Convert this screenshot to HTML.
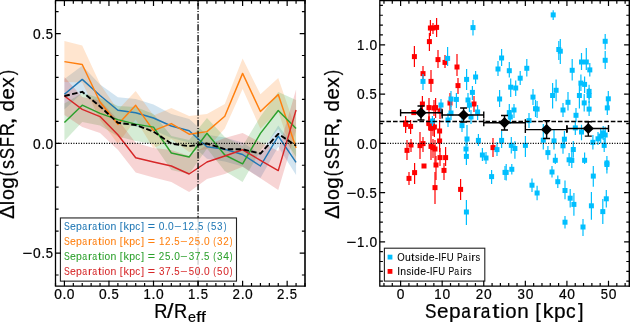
<!DOCTYPE html>
<html><head><meta charset="utf-8"><title>plot</title>
<style>html,body{margin:0;padding:0;background:#fff;}body{width:630px;height:322px;overflow:hidden;}svg{display:block;will-change:transform;}</style>
</head><body>
<svg width="630" height="322" viewBox="0 0 630 322">
<rect x="0" y="0" width="630" height="322" fill="#fff"/>
<g font-family='"Liberation Sans", sans-serif'>
<clipPath id="cl"><rect x="55.50" y="0.70" width="249.50" height="285.40"/></clipPath>
<g clip-path="url(#cl)">
<polygon points="64.41,79.00 82.23,65.80 100.05,84.50 117.87,97.20 135.69,99.00 153.51,104.50 171.33,114.00 189.15,119.00 206.97,134.80 224.79,137.40 242.61,142.50 260.43,154.00 278.25,125.60 296.07,149.60 296.07,175.00 278.25,146.80 260.43,178.00 242.61,166.50 224.79,161.40 206.97,158.80 189.15,142.60 171.33,138.00 153.51,130.00 135.69,126.40 117.87,123.40 100.05,106.50 82.23,93.00 64.41,109.60" fill="#1f77b4" fill-opacity="0.2" stroke="none"/>
<polygon points="64.41,41.10 82.23,45.50 100.05,84.00 117.87,110.00 135.69,91.00 153.51,115.50 171.33,108.00 189.15,116.00 206.97,114.00 224.79,104.00 242.61,58.60 260.43,94.30 278.25,78.00 296.07,130.00 296.07,166.00 278.25,111.20 260.43,128.70 242.61,89.00 224.79,128.60 206.97,149.00 189.15,152.00 171.33,139.00 153.51,148.60 135.69,119.60 117.87,143.80 100.05,120.00 82.23,82.50 64.41,82.00" fill="#ff7f0e" fill-opacity="0.2" stroke="none"/>
<polygon points="64.41,103.60 82.23,93.00 100.05,98.00 117.87,106.00 135.69,107.00 153.51,114.00 171.33,136.00 189.15,140.00 206.97,118.00 224.79,137.00 242.61,146.00 260.43,116.40 278.25,92.00 296.07,100.00 296.07,157.00 278.25,129.00 260.43,150.40 242.61,182.00 224.79,171.00 206.97,148.60 189.15,174.00 171.33,170.00 153.51,144.00 135.69,141.00 117.87,136.60 100.05,125.50 82.23,122.00 64.41,141.00" fill="#2ca02c" fill-opacity="0.2" stroke="none"/>
<polygon points="64.41,77.00 82.23,96.90 100.05,100.60 117.87,119.80 135.69,142.80 153.51,148.00 171.33,150.00 189.15,156.00 206.97,145.00 224.79,138.00 242.61,133.00 260.43,142.30 278.25,151.10 296.07,89.50 296.07,130.50 278.25,190.10 260.43,178.30 242.61,166.80 224.79,174.00 206.97,179.00 189.15,192.00 171.33,182.00 153.51,177.50 135.69,172.60 117.87,149.80 100.05,133.00 82.23,127.00 64.41,115.00" fill="#d62728" fill-opacity="0.2" stroke="none"/>
<polyline points="64.41,94.30 82.23,79.40 100.05,95.50 117.87,110.30 135.69,112.70 153.51,118.00 171.33,126.00 189.15,130.80 206.97,146.80 224.79,149.40 242.61,154.50 260.43,166.00 278.25,136.20 296.07,162.30" fill="none" stroke="#1f77b4" stroke-width="1.45" stroke-linejoin="round"/>
<polyline points="64.41,61.60 82.23,64.50 100.05,102.00 117.87,124.40 135.69,105.30 153.51,130.60 171.33,123.60 189.15,134.20 206.97,131.60 224.79,116.30 242.61,73.40 260.43,111.50 278.25,94.60 296.07,148.00" fill="none" stroke="#ff7f0e" stroke-width="1.45" stroke-linejoin="round"/>
<polyline points="64.41,122.60 82.23,105.20 100.05,113.40 117.87,119.60 135.69,124.10 153.51,127.10 171.33,153.00 189.15,157.00 206.97,133.30 224.79,155.00 242.61,163.80 260.43,133.40 278.25,110.50 296.07,128.50" fill="none" stroke="#2ca02c" stroke-width="1.45" stroke-linejoin="round"/>
<polyline points="64.41,96.00 82.23,109.40 100.05,116.60 117.87,134.80 135.69,157.80 153.51,162.00 171.33,166.00 189.15,174.00 206.97,162.00 224.79,156.00 242.61,149.80 260.43,160.30 278.25,170.60 296.07,110.00" fill="none" stroke="#d62728" stroke-width="1.45" stroke-linejoin="round"/>
<polyline points="64.41,96.00 82.23,91.80 100.05,106.50 117.87,122.80 135.69,125.00 153.51,131.60 171.33,143.60 189.15,146.20 206.97,143.50 224.79,149.20 242.61,149.30 260.43,153.60 278.25,133.90 296.07,145.70" fill="none" stroke="#000" stroke-width="1.9" stroke-linejoin="round" stroke-dasharray="5.5 2.4"/>
<line x1="55.5" y1="143.30" x2="305.0" y2="143.30" stroke="#000" stroke-width="1.25" stroke-dasharray="1.1 1.45"/>
<line x1="198.06" y1="286.1" x2="198.06" y2="0.7" stroke="#000" stroke-width="1.3" stroke-dasharray="6.42 1.61 1.0 1.61"/>
</g>
<rect x="60.4" y="217.95" width="176.1" height="63.2" fill="#fff" fill-opacity="0.8" stroke="#222" stroke-width="1.1"/>
<g font-size="10.2" fill="#1f77b4" stroke="#1f77b4" stroke-width="0.05"><text x="-3.40" y="0" transform="translate(66.89,230.00) scale(0.848,1)">S</text><text x="-2.83" y="0" transform="translate(72.91,230.00) scale(1.027,1)">e</text><text x="-2.95" y="0" transform="translate(79.14,230.00) scale(1.035,1)">p</text><text x="-3.05" y="0" transform="translate(84.86,230.00) scale(0.855,1)">a</text><text x="-1.95" y="0" transform="translate(90.42,230.00) scale(1.218,1)">r</text><text x="-3.05" y="0" transform="translate(94.80,230.00) scale(0.855,1)">a</text><text x="-1.46" y="0" transform="translate(99.83,230.00) scale(1.271,1)">t</text><text x="-1.13" y="0" transform="translate(103.07,230.00) scale(0.972,1)">i</text><text x="104.55" y="230.00">o</text><text x="-2.84" y="0" transform="translate(113.45,230.00) scale(1.025,1)">n</text><text x="119.68" y="230.00">[</text><text x="-2.90" y="0" transform="translate(126.60,230.00) scale(1.063,1)">k</text><text x="-2.95" y="0" transform="translate(132.24,230.00) scale(1.035,1)">p</text><text x="-2.63" y="0" transform="translate(137.77,230.00) scale(0.954,1)">c</text><text x="141.33" y="230.00">]</text><text x="-2.98" y="0" transform="translate(151.41,230.00) scale(1.225,1)">=</text><text x="158.80" y="230.00">0</text><text x="-1.42" y="0" transform="translate(166.26,230.00) scale(1.029,1)">.</text><text x="168.05" y="230.00">0</text><text x="-2.98" y="0" transform="translate(178.04,230.00) scale(1.225,1)">−</text><text x="-2.98" y="0" transform="translate(185.28,230.00) scale(0.957,1)">1</text><text x="-2.84" y="0" transform="translate(191.23,230.00) scale(0.966,1)">2</text><text x="-1.42" y="0" transform="translate(195.99,230.00) scale(1.029,1)">.</text><text x="-2.83" y="0" transform="translate(200.57,230.00) scale(0.946,1)">5</text><text x="-1.98" y="0" transform="translate(208.71,230.00) scale(0.804,1)">(</text><text x="-2.83" y="0" transform="translate(213.61,230.00) scale(0.946,1)">5</text><text x="-2.81" y="0" transform="translate(219.81,230.00) scale(0.963,1)">3</text><text x="-1.41" y="0" transform="translate(224.78,230.00) scale(0.804,1)">)</text></g>
<g font-size="10.2" fill="#ff7f0e" stroke="#ff7f0e" stroke-width="0.05"><text x="-3.40" y="0" transform="translate(66.89,245.13) scale(0.848,1)">S</text><text x="-2.83" y="0" transform="translate(72.91,245.13) scale(1.027,1)">e</text><text x="-2.95" y="0" transform="translate(79.14,245.13) scale(1.035,1)">p</text><text x="-3.05" y="0" transform="translate(84.86,245.13) scale(0.855,1)">a</text><text x="-1.95" y="0" transform="translate(90.42,245.13) scale(1.218,1)">r</text><text x="-3.05" y="0" transform="translate(94.80,245.13) scale(0.855,1)">a</text><text x="-1.46" y="0" transform="translate(99.83,245.13) scale(1.271,1)">t</text><text x="-1.13" y="0" transform="translate(103.07,245.13) scale(0.972,1)">i</text><text x="104.55" y="245.13">o</text><text x="-2.84" y="0" transform="translate(113.45,245.13) scale(1.025,1)">n</text><text x="119.68" y="245.13">[</text><text x="-2.90" y="0" transform="translate(126.60,245.13) scale(1.063,1)">k</text><text x="-2.95" y="0" transform="translate(132.24,245.13) scale(1.035,1)">p</text><text x="-2.63" y="0" transform="translate(137.77,245.13) scale(0.954,1)">c</text><text x="141.33" y="245.13">]</text><text x="-2.98" y="0" transform="translate(151.41,245.13) scale(1.225,1)">=</text><text x="-2.98" y="0" transform="translate(161.72,245.13) scale(0.957,1)">1</text><text x="-2.84" y="0" transform="translate(167.68,245.13) scale(0.966,1)">2</text><text x="-1.42" y="0" transform="translate(172.43,245.13) scale(1.029,1)">.</text><text x="-2.83" y="0" transform="translate(177.01,245.13) scale(0.946,1)">5</text><text x="-2.98" y="0" transform="translate(184.21,245.13) scale(1.225,1)">−</text><text x="-2.84" y="0" transform="translate(191.23,245.13) scale(0.966,1)">2</text><text x="-2.83" y="0" transform="translate(197.49,245.13) scale(0.946,1)">5</text><text x="-1.42" y="0" transform="translate(202.16,245.13) scale(1.029,1)">.</text><text x="203.95" y="245.13">0</text><text x="-1.98" y="0" transform="translate(214.88,245.13) scale(0.804,1)">(</text><text x="-2.81" y="0" transform="translate(219.81,245.13) scale(0.963,1)">3</text><text x="-2.84" y="0" transform="translate(225.87,245.13) scale(0.966,1)">2</text><text x="-1.41" y="0" transform="translate(230.95,245.13) scale(0.804,1)">)</text></g>
<g font-size="10.2" fill="#2ca02c" stroke="#2ca02c" stroke-width="0.05"><text x="-3.40" y="0" transform="translate(66.89,260.26) scale(0.848,1)">S</text><text x="-2.83" y="0" transform="translate(72.91,260.26) scale(1.027,1)">e</text><text x="-2.95" y="0" transform="translate(79.14,260.26) scale(1.035,1)">p</text><text x="-3.05" y="0" transform="translate(84.86,260.26) scale(0.855,1)">a</text><text x="-1.95" y="0" transform="translate(90.42,260.26) scale(1.218,1)">r</text><text x="-3.05" y="0" transform="translate(94.80,260.26) scale(0.855,1)">a</text><text x="-1.46" y="0" transform="translate(99.83,260.26) scale(1.271,1)">t</text><text x="-1.13" y="0" transform="translate(103.07,260.26) scale(0.972,1)">i</text><text x="104.55" y="260.26">o</text><text x="-2.84" y="0" transform="translate(113.45,260.26) scale(1.025,1)">n</text><text x="119.68" y="260.26">[</text><text x="-2.90" y="0" transform="translate(126.60,260.26) scale(1.063,1)">k</text><text x="-2.95" y="0" transform="translate(132.24,260.26) scale(1.035,1)">p</text><text x="-2.63" y="0" transform="translate(137.77,260.26) scale(0.954,1)">c</text><text x="141.33" y="260.26">]</text><text x="-2.98" y="0" transform="translate(151.41,260.26) scale(1.225,1)">=</text><text x="-2.84" y="0" transform="translate(161.51,260.26) scale(0.966,1)">2</text><text x="-2.83" y="0" transform="translate(167.76,260.26) scale(0.946,1)">5</text><text x="-1.42" y="0" transform="translate(172.43,260.26) scale(1.029,1)">.</text><text x="174.23" y="260.26">0</text><text x="-2.98" y="0" transform="translate(184.21,260.26) scale(1.225,1)">−</text><text x="-2.81" y="0" transform="translate(191.34,260.26) scale(0.963,1)">3</text><text x="194.68" y="260.26">7</text><text x="-1.42" y="0" transform="translate(202.16,260.26) scale(1.029,1)">.</text><text x="-2.83" y="0" transform="translate(206.74,260.26) scale(0.946,1)">5</text><text x="-1.98" y="0" transform="translate(214.88,260.26) scale(0.804,1)">(</text><text x="-2.81" y="0" transform="translate(219.81,260.26) scale(0.963,1)">3</text><text x="223.16" y="260.26">4</text><text x="-1.41" y="0" transform="translate(230.95,260.26) scale(0.804,1)">)</text></g>
<g font-size="10.2" fill="#d62728" stroke="#d62728" stroke-width="0.05"><text x="-3.40" y="0" transform="translate(66.89,275.39) scale(0.848,1)">S</text><text x="-2.83" y="0" transform="translate(72.91,275.39) scale(1.027,1)">e</text><text x="-2.95" y="0" transform="translate(79.14,275.39) scale(1.035,1)">p</text><text x="-3.05" y="0" transform="translate(84.86,275.39) scale(0.855,1)">a</text><text x="-1.95" y="0" transform="translate(90.42,275.39) scale(1.218,1)">r</text><text x="-3.05" y="0" transform="translate(94.80,275.39) scale(0.855,1)">a</text><text x="-1.46" y="0" transform="translate(99.83,275.39) scale(1.271,1)">t</text><text x="-1.13" y="0" transform="translate(103.07,275.39) scale(0.972,1)">i</text><text x="104.55" y="275.39">o</text><text x="-2.84" y="0" transform="translate(113.45,275.39) scale(1.025,1)">n</text><text x="119.68" y="275.39">[</text><text x="-2.90" y="0" transform="translate(126.60,275.39) scale(1.063,1)">k</text><text x="-2.95" y="0" transform="translate(132.24,275.39) scale(1.035,1)">p</text><text x="-2.63" y="0" transform="translate(137.77,275.39) scale(0.954,1)">c</text><text x="141.33" y="275.39">]</text><text x="-2.98" y="0" transform="translate(151.41,275.39) scale(1.225,1)">=</text><text x="-2.81" y="0" transform="translate(161.62,275.39) scale(0.963,1)">3</text><text x="164.95" y="275.39">7</text><text x="-1.42" y="0" transform="translate(172.43,275.39) scale(1.029,1)">.</text><text x="-2.83" y="0" transform="translate(177.01,275.39) scale(0.946,1)">5</text><text x="-2.98" y="0" transform="translate(184.21,275.39) scale(1.225,1)">−</text><text x="-2.83" y="0" transform="translate(191.31,275.39) scale(0.946,1)">5</text><text x="194.70" y="275.39">0</text><text x="-1.42" y="0" transform="translate(202.16,275.39) scale(1.029,1)">.</text><text x="203.95" y="275.39">0</text><text x="-1.98" y="0" transform="translate(214.88,275.39) scale(0.804,1)">(</text><text x="-2.83" y="0" transform="translate(219.78,275.39) scale(0.946,1)">5</text><text x="223.16" y="275.39">0</text><text x="-1.41" y="0" transform="translate(230.95,275.39) scale(0.804,1)">)</text></g>
<path d="M64.41 286.10L64.41 280.80 M64.41 0.70L64.41 6.00 M108.96 286.10L108.96 280.80 M108.96 0.70L108.96 6.00 M153.51 286.10L153.51 280.80 M153.51 0.70L153.51 6.00 M198.06 286.10L198.06 280.80 M198.06 0.70L198.06 6.00 M242.61 286.10L242.61 280.80 M242.61 0.70L242.61 6.00 M287.16 286.10L287.16 280.80 M287.16 0.70L287.16 6.00 M55.50 286.10L55.50 283.00 M55.50 0.70L55.50 3.80 M73.32 286.10L73.32 283.00 M73.32 0.70L73.32 3.80 M82.23 286.10L82.23 283.00 M82.23 0.70L82.23 3.80 M91.14 286.10L91.14 283.00 M91.14 0.70L91.14 3.80 M100.05 286.10L100.05 283.00 M100.05 0.70L100.05 3.80 M117.87 286.10L117.87 283.00 M117.87 0.70L117.87 3.80 M126.78 286.10L126.78 283.00 M126.78 0.70L126.78 3.80 M135.69 286.10L135.69 283.00 M135.69 0.70L135.69 3.80 M144.60 286.10L144.60 283.00 M144.60 0.70L144.60 3.80 M162.42 286.10L162.42 283.00 M162.42 0.70L162.42 3.80 M171.33 286.10L171.33 283.00 M171.33 0.70L171.33 3.80 M180.24 286.10L180.24 283.00 M180.24 0.70L180.24 3.80 M189.15 286.10L189.15 283.00 M189.15 0.70L189.15 3.80 M206.97 286.10L206.97 283.00 M206.97 0.70L206.97 3.80 M215.88 286.10L215.88 283.00 M215.88 0.70L215.88 3.80 M224.79 286.10L224.79 283.00 M224.79 0.70L224.79 3.80 M233.70 286.10L233.70 283.00 M233.70 0.70L233.70 3.80 M251.52 286.10L251.52 283.00 M251.52 0.70L251.52 3.80 M260.43 286.10L260.43 283.00 M260.43 0.70L260.43 3.80 M269.34 286.10L269.34 283.00 M269.34 0.70L269.34 3.80 M278.25 286.10L278.25 283.00 M278.25 0.70L278.25 3.80 M296.07 286.10L296.07 283.00 M296.07 0.70L296.07 3.80 M304.98 286.10L304.98 283.00 M304.98 0.70L304.98 3.80 M55.50 253.05L60.80 253.05 M305.00 253.05L299.70 253.05 M55.50 143.30L60.80 143.30 M305.00 143.30L299.70 143.30 M55.50 33.55L60.80 33.55 M305.00 33.55L299.70 33.55 M55.50 275.00L58.60 275.00 M305.00 275.00L301.90 275.00 M55.50 231.10L58.60 231.10 M305.00 231.10L301.90 231.10 M55.50 209.15L58.60 209.15 M305.00 209.15L301.90 209.15 M55.50 187.20L58.60 187.20 M305.00 187.20L301.90 187.20 M55.50 165.25L58.60 165.25 M305.00 165.25L301.90 165.25 M55.50 121.35L58.60 121.35 M305.00 121.35L301.90 121.35 M55.50 99.40L58.60 99.40 M305.00 99.40L301.90 99.40 M55.50 77.45L58.60 77.45 M305.00 77.45L301.90 77.45 M55.50 55.50L58.60 55.50 M305.00 55.50L301.90 55.50 M55.50 11.60L58.60 11.60 M305.00 11.60L301.90 11.60" stroke="#000" stroke-width="1.2" fill="none"/>
<path d="M55.5 0.7H305.0M55.5 286.1H305.0M55.5 0.7V286.1" fill="none" stroke="#000" stroke-width="1.3" stroke-linecap="square"/>
<path d="M305.0 0.04999999999999993V286.75" fill="none" stroke="#000" stroke-width="1.6"/>
<g font-size="14.2" fill="#000" stroke="#000" stroke-width="0.22"><text x="-3.95" y="0" transform="translate(58.16,298.90) scale(0.972,1)">0</text><text x="62.43" y="298.90">.</text><text x="-3.95" y="0" transform="translate(70.66,298.90) scale(0.972,1)">0</text></g>
<g font-size="14.2" fill="#000" stroke="#000" stroke-width="0.22"><text x="-3.95" y="0" transform="translate(102.71,298.90) scale(0.972,1)">0</text><text x="106.98" y="298.90">.</text><text x="-3.93" y="0" transform="translate(115.14,298.90) scale(0.918,1)">5</text></g>
<g font-size="14.2" fill="#000" stroke="#000" stroke-width="0.22"><text x="-4.14" y="0" transform="translate(147.38,298.90) scale(0.929,1)">1</text><text x="151.53" y="298.90">.</text><text x="-3.95" y="0" transform="translate(159.76,298.90) scale(0.972,1)">0</text></g>
<g font-size="14.2" fill="#000" stroke="#000" stroke-width="0.22"><text x="-4.14" y="0" transform="translate(191.93,298.90) scale(0.929,1)">1</text><text x="196.08" y="298.90">.</text><text x="-3.93" y="0" transform="translate(204.24,298.90) scale(0.918,1)">5</text></g>
<g font-size="14.2" fill="#000" stroke="#000" stroke-width="0.22"><text x="-3.95" y="0" transform="translate(236.18,298.90) scale(0.937,1)">2</text><text x="240.63" y="298.90">.</text><text x="-3.95" y="0" transform="translate(248.86,298.90) scale(0.972,1)">0</text></g>
<g font-size="14.2" fill="#000" stroke="#000" stroke-width="0.22"><text x="-3.95" y="0" transform="translate(280.73,298.90) scale(0.937,1)">2</text><text x="285.18" y="298.90">.</text><text x="-3.93" y="0" transform="translate(293.34,298.90) scale(0.918,1)">5</text></g>
<g font-size="14.2" fill="#000" stroke="#000" stroke-width="0.22"><text x="-4.15" y="0" transform="translate(27.28,258.25) scale(1.189,1)">−</text><text x="-3.95" y="0" transform="translate(36.93,258.25) scale(0.972,1)">0</text><text x="41.20" y="258.25">.</text><text x="-3.93" y="0" transform="translate(49.37,258.25) scale(0.918,1)">5</text></g>
<g font-size="14.2" fill="#000" stroke="#000" stroke-width="0.22"><text x="-3.95" y="0" transform="translate(36.93,148.50) scale(0.972,1)">0</text><text x="41.20" y="148.50">.</text><text x="-3.95" y="0" transform="translate(49.43,148.50) scale(0.972,1)">0</text></g>
<g font-size="14.2" fill="#000" stroke="#000" stroke-width="0.22"><text x="-3.95" y="0" transform="translate(36.93,38.75) scale(0.972,1)">0</text><text x="41.20" y="38.75">.</text><text x="-3.93" y="0" transform="translate(49.37,38.75) scale(0.918,1)">5</text></g>
<clipPath id="cr"><rect x="379.80" y="0.70" width="249.60" height="285.40"/></clipPath>
<g clip-path="url(#cr)">
<line x1="430.4" y1="20.0" x2="430.4" y2="36.0" stroke="#ff0000" stroke-width="1.2"/>
<rect x="427.9" y="25.5" width="5" height="5" fill="#ff0000"/>
<line x1="433.0" y1="23.0" x2="433.0" y2="34.0" stroke="#ff0000" stroke-width="1.2"/>
<rect x="430.5" y="25.5" width="5" height="5" fill="#ff0000"/>
<line x1="436.6" y1="18.0" x2="436.6" y2="37.0" stroke="#ff0000" stroke-width="1.2"/>
<rect x="434.1" y="24.9" width="5" height="5" fill="#ff0000"/>
<line x1="429.4" y1="33.0" x2="429.4" y2="51.0" stroke="#ff0000" stroke-width="1.2"/>
<rect x="426.9" y="39.1" width="5" height="5" fill="#ff0000"/>
<line x1="414.4" y1="46.0" x2="414.4" y2="67.0" stroke="#ff0000" stroke-width="1.2"/>
<rect x="411.9" y="54.1" width="5" height="5" fill="#ff0000"/>
<line x1="438.0" y1="50.0" x2="438.0" y2="68.0" stroke="#ff0000" stroke-width="1.2"/>
<rect x="435.5" y="57.1" width="5" height="5" fill="#ff0000"/>
<line x1="445.0" y1="55.0" x2="445.0" y2="68.0" stroke="#ff0000" stroke-width="1.2"/>
<rect x="442.5" y="59.9" width="5" height="5" fill="#ff0000"/>
<line x1="457.0" y1="54.0" x2="457.0" y2="76.0" stroke="#ff0000" stroke-width="1.2"/>
<rect x="454.5" y="64.5" width="5" height="5" fill="#ff0000"/>
<line x1="423.0" y1="66.0" x2="423.0" y2="80.0" stroke="#ff0000" stroke-width="1.2"/>
<rect x="420.5" y="71.1" width="5" height="5" fill="#ff0000"/>
<line x1="431.0" y1="70.0" x2="431.0" y2="92.0" stroke="#ff0000" stroke-width="1.2"/>
<rect x="428.5" y="78.9" width="5" height="5" fill="#ff0000"/>
<line x1="458.0" y1="78.0" x2="458.0" y2="94.0" stroke="#ff0000" stroke-width="1.2"/>
<rect x="455.5" y="83.1" width="5" height="5" fill="#ff0000"/>
<line x1="422.4" y1="96.0" x2="422.4" y2="114.0" stroke="#ff0000" stroke-width="1.2"/>
<rect x="419.9" y="101.5" width="5" height="5" fill="#ff0000"/>
<line x1="429.0" y1="98.0" x2="429.0" y2="120.0" stroke="#ff0000" stroke-width="1.2"/>
<rect x="426.5" y="105.1" width="5" height="5" fill="#ff0000"/>
<line x1="434.0" y1="100.0" x2="434.0" y2="116.0" stroke="#ff0000" stroke-width="1.2"/>
<rect x="431.5" y="105.5" width="5" height="5" fill="#ff0000"/>
<line x1="435.6" y1="98.0" x2="435.6" y2="118.0" stroke="#ff0000" stroke-width="1.2"/>
<rect x="433.1" y="105.1" width="5" height="5" fill="#ff0000"/>
<line x1="413.8" y1="110.5" x2="413.8" y2="114.7" stroke="#ff0000" stroke-width="1.2"/>
<rect x="411.3" y="110.1" width="5" height="5" fill="#ff0000"/>
<line x1="440.0" y1="103.0" x2="440.0" y2="119.0" stroke="#ff0000" stroke-width="1.2"/>
<rect x="437.5" y="108.5" width="5" height="5" fill="#ff0000"/>
<line x1="450.0" y1="93.0" x2="450.0" y2="114.0" stroke="#ff0000" stroke-width="1.2"/>
<rect x="447.5" y="100.5" width="5" height="5" fill="#ff0000"/>
<line x1="474.0" y1="96.0" x2="474.0" y2="112.0" stroke="#ff0000" stroke-width="1.2"/>
<rect x="471.5" y="101.5" width="5" height="5" fill="#ff0000"/>
<line x1="405.6" y1="116.0" x2="405.6" y2="130.0" stroke="#ff0000" stroke-width="1.2"/>
<rect x="403.1" y="120.5" width="5" height="5" fill="#ff0000"/>
<line x1="429.0" y1="116.0" x2="429.0" y2="130.0" stroke="#ff0000" stroke-width="1.2"/>
<rect x="426.5" y="120.5" width="5" height="5" fill="#ff0000"/>
<line x1="405.6" y1="120.0" x2="405.6" y2="133.0" stroke="#ff0000" stroke-width="1.2"/>
<rect x="403.1" y="121.9" width="5" height="5" fill="#ff0000"/>
<line x1="410.6" y1="120.0" x2="410.6" y2="134.0" stroke="#ff0000" stroke-width="1.2"/>
<rect x="408.1" y="123.9" width="5" height="5" fill="#ff0000"/>
<line x1="429.0" y1="117.0" x2="429.0" y2="130.0" stroke="#ff0000" stroke-width="1.2"/>
<rect x="426.5" y="121.1" width="5" height="5" fill="#ff0000"/>
<line x1="431.0" y1="120.0" x2="431.0" y2="138.0" stroke="#ff0000" stroke-width="1.2"/>
<rect x="428.5" y="125.9" width="5" height="5" fill="#ff0000"/>
<line x1="433.0" y1="120.0" x2="433.0" y2="136.0" stroke="#ff0000" stroke-width="1.2"/>
<rect x="430.5" y="125.1" width="5" height="5" fill="#ff0000"/>
<line x1="434.4" y1="118.0" x2="434.4" y2="137.0" stroke="#ff0000" stroke-width="1.2"/>
<rect x="431.9" y="124.5" width="5" height="5" fill="#ff0000"/>
<line x1="439.6" y1="120.0" x2="439.6" y2="140.0" stroke="#ff0000" stroke-width="1.2"/>
<rect x="437.1" y="128.5" width="5" height="5" fill="#ff0000"/>
<line x1="439.6" y1="132.0" x2="439.6" y2="152.0" stroke="#ff0000" stroke-width="1.2"/>
<rect x="437.1" y="138.5" width="5" height="5" fill="#ff0000"/>
<line x1="411.0" y1="139.0" x2="411.0" y2="152.0" stroke="#ff0000" stroke-width="1.2"/>
<rect x="408.5" y="142.5" width="5" height="5" fill="#ff0000"/>
<line x1="407.0" y1="140.0" x2="407.0" y2="160.0" stroke="#ff0000" stroke-width="1.2"/>
<rect x="404.5" y="147.9" width="5" height="5" fill="#ff0000"/>
<line x1="420.0" y1="132.0" x2="420.0" y2="159.0" stroke="#ff0000" stroke-width="1.2"/>
<rect x="417.5" y="143.1" width="5" height="5" fill="#ff0000"/>
<line x1="423.0" y1="137.0" x2="423.0" y2="152.0" stroke="#ff0000" stroke-width="1.2"/>
<rect x="420.5" y="141.1" width="5" height="5" fill="#ff0000"/>
<line x1="431.0" y1="138.0" x2="431.0" y2="160.0" stroke="#ff0000" stroke-width="1.2"/>
<rect x="428.5" y="143.9" width="5" height="5" fill="#ff0000"/>
<line x1="433.0" y1="139.0" x2="433.0" y2="158.0" stroke="#ff0000" stroke-width="1.2"/>
<rect x="430.5" y="145.1" width="5" height="5" fill="#ff0000"/>
<line x1="435.0" y1="140.0" x2="435.0" y2="166.0" stroke="#ff0000" stroke-width="1.2"/>
<rect x="432.5" y="146.5" width="5" height="5" fill="#ff0000"/>
<line x1="440.0" y1="148.0" x2="440.0" y2="166.0" stroke="#ff0000" stroke-width="1.2"/>
<rect x="437.5" y="155.1" width="5" height="5" fill="#ff0000"/>
<line x1="445.6" y1="147.0" x2="445.6" y2="166.0" stroke="#ff0000" stroke-width="1.2"/>
<rect x="443.1" y="155.1" width="5" height="5" fill="#ff0000"/>
<line x1="424.0" y1="166.0" x2="424.0" y2="166.0" stroke="#ff0000" stroke-width="1.2"/>
<rect x="421.5" y="163.5" width="5" height="5" fill="#ff0000"/>
<line x1="436.0" y1="156.0" x2="436.0" y2="180.0" stroke="#ff0000" stroke-width="1.2"/>
<rect x="433.5" y="162.5" width="5" height="5" fill="#ff0000"/>
<line x1="444.0" y1="163.0" x2="444.0" y2="180.0" stroke="#ff0000" stroke-width="1.2"/>
<rect x="441.5" y="167.9" width="5" height="5" fill="#ff0000"/>
<line x1="414.6" y1="163.0" x2="414.6" y2="184.0" stroke="#ff0000" stroke-width="1.2"/>
<rect x="412.1" y="170.1" width="5" height="5" fill="#ff0000"/>
<line x1="409.0" y1="172.0" x2="409.0" y2="185.0" stroke="#ff0000" stroke-width="1.2"/>
<rect x="406.5" y="175.9" width="5" height="5" fill="#ff0000"/>
<line x1="493.0" y1="138.0" x2="493.0" y2="157.0" stroke="#ff0000" stroke-width="1.2"/>
<rect x="490.5" y="145.1" width="5" height="5" fill="#ff0000"/>
<line x1="435.0" y1="172.0" x2="435.0" y2="204.0" stroke="#ff0000" stroke-width="1.2"/>
<rect x="432.5" y="185.1" width="5" height="5" fill="#ff0000"/>
<line x1="460.6" y1="179.0" x2="460.6" y2="200.0" stroke="#ff0000" stroke-width="1.2"/>
<rect x="458.1" y="186.9" width="5" height="5" fill="#ff0000"/>
<line x1="473.0" y1="20.0" x2="473.0" y2="35.6" stroke="#00bfff" stroke-width="1.2"/>
<rect x="470.5" y="25.1" width="5" height="5" fill="#00bfff"/>
<line x1="447.6" y1="47.0" x2="447.6" y2="66.0" stroke="#00bfff" stroke-width="1.2"/>
<rect x="445.1" y="55.9" width="5" height="5" fill="#00bfff"/>
<line x1="501.6" y1="49.0" x2="501.6" y2="66.0" stroke="#00bfff" stroke-width="1.2"/>
<rect x="499.1" y="55.5" width="5" height="5" fill="#00bfff"/>
<line x1="553.2" y1="10.3" x2="553.2" y2="20.0" stroke="#00bfff" stroke-width="1.2"/>
<rect x="550.7" y="12.4" width="5" height="5" fill="#00bfff"/>
<line x1="558.8" y1="41.0" x2="558.8" y2="60.0" stroke="#00bfff" stroke-width="1.2"/>
<rect x="556.3" y="47.0" width="5" height="5" fill="#00bfff"/>
<line x1="560.3" y1="39.0" x2="560.3" y2="64.0" stroke="#00bfff" stroke-width="1.2"/>
<rect x="557.8" y="48.7" width="5" height="5" fill="#00bfff"/>
<line x1="605.2" y1="34.0" x2="605.2" y2="49.5" stroke="#00bfff" stroke-width="1.2"/>
<rect x="602.7" y="38.8" width="5" height="5" fill="#00bfff"/>
<line x1="605.2" y1="51.0" x2="605.2" y2="69.0" stroke="#00bfff" stroke-width="1.2"/>
<rect x="602.7" y="57.8" width="5" height="5" fill="#00bfff"/>
<line x1="581.5" y1="53.0" x2="581.5" y2="70.0" stroke="#00bfff" stroke-width="1.2"/>
<rect x="579.0" y="59.5" width="5" height="5" fill="#00bfff"/>
<line x1="586.3" y1="48.0" x2="586.3" y2="70.0" stroke="#00bfff" stroke-width="1.2"/>
<rect x="583.8" y="59.5" width="5" height="5" fill="#00bfff"/>
<line x1="509.3" y1="62.0" x2="509.3" y2="77.5" stroke="#00bfff" stroke-width="1.2"/>
<rect x="506.8" y="68.2" width="5" height="5" fill="#00bfff"/>
<line x1="526.8" y1="59.0" x2="526.8" y2="76.5" stroke="#00bfff" stroke-width="1.2"/>
<rect x="524.3" y="65.8" width="5" height="5" fill="#00bfff"/>
<line x1="572.2" y1="59.0" x2="572.2" y2="80.6" stroke="#00bfff" stroke-width="1.2"/>
<rect x="569.7" y="67.8" width="5" height="5" fill="#00bfff"/>
<line x1="423.0" y1="74.0" x2="423.0" y2="90.0" stroke="#00bfff" stroke-width="1.2"/>
<rect x="420.5" y="78.9" width="5" height="5" fill="#00bfff"/>
<line x1="466.6" y1="69.0" x2="466.6" y2="90.0" stroke="#00bfff" stroke-width="1.2"/>
<rect x="464.1" y="76.9" width="5" height="5" fill="#00bfff"/>
<line x1="475.6" y1="71.0" x2="475.6" y2="84.0" stroke="#00bfff" stroke-width="1.2"/>
<rect x="473.1" y="74.5" width="5" height="5" fill="#00bfff"/>
<line x1="472.4" y1="86.0" x2="472.4" y2="100.0" stroke="#00bfff" stroke-width="1.2"/>
<rect x="469.9" y="89.9" width="5" height="5" fill="#00bfff"/>
<line x1="451.0" y1="91.0" x2="451.0" y2="107.0" stroke="#00bfff" stroke-width="1.2"/>
<rect x="448.5" y="96.5" width="5" height="5" fill="#00bfff"/>
<line x1="456.4" y1="93.0" x2="456.4" y2="108.0" stroke="#00bfff" stroke-width="1.2"/>
<rect x="453.9" y="96.9" width="5" height="5" fill="#00bfff"/>
<line x1="468.0" y1="93.0" x2="468.0" y2="108.0" stroke="#00bfff" stroke-width="1.2"/>
<rect x="465.5" y="97.5" width="5" height="5" fill="#00bfff"/>
<line x1="441.0" y1="99.0" x2="441.0" y2="112.0" stroke="#00bfff" stroke-width="1.2"/>
<rect x="438.5" y="102.5" width="5" height="5" fill="#00bfff"/>
<line x1="469.4" y1="99.0" x2="469.4" y2="112.0" stroke="#00bfff" stroke-width="1.2"/>
<rect x="466.9" y="102.5" width="5" height="5" fill="#00bfff"/>
<line x1="451.0" y1="106.0" x2="451.0" y2="120.0" stroke="#00bfff" stroke-width="1.2"/>
<rect x="448.5" y="110.5" width="5" height="5" fill="#00bfff"/>
<line x1="477.6" y1="105.0" x2="477.6" y2="120.0" stroke="#00bfff" stroke-width="1.2"/>
<rect x="475.1" y="109.5" width="5" height="5" fill="#00bfff"/>
<line x1="448.0" y1="113.0" x2="448.0" y2="127.0" stroke="#00bfff" stroke-width="1.2"/>
<rect x="445.5" y="117.5" width="5" height="5" fill="#00bfff"/>
<line x1="471.0" y1="110.0" x2="471.0" y2="124.0" stroke="#00bfff" stroke-width="1.2"/>
<rect x="468.5" y="114.5" width="5" height="5" fill="#00bfff"/>
<line x1="498.0" y1="61.0" x2="498.0" y2="76.0" stroke="#00bfff" stroke-width="1.2"/>
<rect x="495.5" y="66.5" width="5" height="5" fill="#00bfff"/>
<line x1="499.6" y1="90.0" x2="499.6" y2="107.0" stroke="#00bfff" stroke-width="1.2"/>
<rect x="497.1" y="96.5" width="5" height="5" fill="#00bfff"/>
<line x1="520.2" y1="71.0" x2="520.2" y2="85.0" stroke="#00bfff" stroke-width="1.2"/>
<rect x="517.7" y="75.7" width="5" height="5" fill="#00bfff"/>
<line x1="510.7" y1="78.6" x2="510.7" y2="97.0" stroke="#00bfff" stroke-width="1.2"/>
<rect x="508.2" y="84.7" width="5" height="5" fill="#00bfff"/>
<line x1="515.7" y1="80.6" x2="515.7" y2="96.0" stroke="#00bfff" stroke-width="1.2"/>
<rect x="513.2" y="85.5" width="5" height="5" fill="#00bfff"/>
<line x1="533.0" y1="89.0" x2="533.0" y2="105.0" stroke="#00bfff" stroke-width="1.2"/>
<rect x="530.5" y="94.6" width="5" height="5" fill="#00bfff"/>
<line x1="535.5" y1="100.0" x2="535.5" y2="117.0" stroke="#00bfff" stroke-width="1.2"/>
<rect x="533.0" y="106.2" width="5" height="5" fill="#00bfff"/>
<line x1="537.1" y1="101.0" x2="537.1" y2="118.0" stroke="#00bfff" stroke-width="1.2"/>
<rect x="534.6" y="106.6" width="5" height="5" fill="#00bfff"/>
<line x1="509.3" y1="104.0" x2="509.3" y2="120.0" stroke="#00bfff" stroke-width="1.2"/>
<rect x="506.8" y="110.1" width="5" height="5" fill="#00bfff"/>
<line x1="514.0" y1="104.0" x2="514.0" y2="118.0" stroke="#00bfff" stroke-width="1.2"/>
<rect x="511.5" y="107.5" width="5" height="5" fill="#00bfff"/>
<line x1="510.3" y1="110.0" x2="510.3" y2="124.0" stroke="#00bfff" stroke-width="1.2"/>
<rect x="507.8" y="114.5" width="5" height="5" fill="#00bfff"/>
<line x1="529.0" y1="113.0" x2="529.0" y2="128.0" stroke="#00bfff" stroke-width="1.2"/>
<rect x="526.5" y="118.1" width="5" height="5" fill="#00bfff"/>
<line x1="552.6" y1="83.0" x2="552.6" y2="108.5" stroke="#00bfff" stroke-width="1.2"/>
<rect x="550.1" y="93.0" width="5" height="5" fill="#00bfff"/>
<line x1="556.1" y1="79.6" x2="556.1" y2="101.3" stroke="#00bfff" stroke-width="1.2"/>
<rect x="553.6" y="87.8" width="5" height="5" fill="#00bfff"/>
<line x1="563.0" y1="103.0" x2="563.0" y2="117.0" stroke="#00bfff" stroke-width="1.2"/>
<rect x="560.5" y="107.5" width="5" height="5" fill="#00bfff"/>
<line x1="568.0" y1="92.0" x2="568.0" y2="110.6" stroke="#00bfff" stroke-width="1.2"/>
<rect x="565.5" y="99.8" width="5" height="5" fill="#00bfff"/>
<line x1="576.0" y1="108.0" x2="576.0" y2="122.0" stroke="#00bfff" stroke-width="1.2"/>
<rect x="573.5" y="112.8" width="5" height="5" fill="#00bfff"/>
<line x1="579.4" y1="85.0" x2="579.4" y2="108.5" stroke="#00bfff" stroke-width="1.2"/>
<rect x="576.9" y="93.0" width="5" height="5" fill="#00bfff"/>
<line x1="580.9" y1="74.4" x2="580.9" y2="91.0" stroke="#00bfff" stroke-width="1.2"/>
<rect x="578.4" y="80.6" width="5" height="5" fill="#00bfff"/>
<line x1="584.6" y1="76.5" x2="584.6" y2="93.0" stroke="#00bfff" stroke-width="1.2"/>
<rect x="582.1" y="81.9" width="5" height="5" fill="#00bfff"/>
<line x1="584.2" y1="94.0" x2="584.2" y2="111.6" stroke="#00bfff" stroke-width="1.2"/>
<rect x="581.7" y="100.4" width="5" height="5" fill="#00bfff"/>
<line x1="589.1" y1="84.8" x2="589.1" y2="99.2" stroke="#00bfff" stroke-width="1.2"/>
<rect x="586.6" y="88.9" width="5" height="5" fill="#00bfff"/>
<line x1="589.1" y1="88.0" x2="589.1" y2="103.0" stroke="#00bfff" stroke-width="1.2"/>
<rect x="586.6" y="93.0" width="5" height="5" fill="#00bfff"/>
<line x1="589.1" y1="101.0" x2="589.1" y2="116.0" stroke="#00bfff" stroke-width="1.2"/>
<rect x="586.6" y="106.6" width="5" height="5" fill="#00bfff"/>
<line x1="589.8" y1="63.0" x2="589.8" y2="76.5" stroke="#00bfff" stroke-width="1.2"/>
<rect x="587.3" y="67.4" width="5" height="5" fill="#00bfff"/>
<line x1="608.3" y1="91.0" x2="608.3" y2="107.5" stroke="#00bfff" stroke-width="1.2"/>
<rect x="605.8" y="96.3" width="5" height="5" fill="#00bfff"/>
<line x1="607.3" y1="101.0" x2="607.3" y2="115.0" stroke="#00bfff" stroke-width="1.2"/>
<rect x="604.8" y="105.4" width="5" height="5" fill="#00bfff"/>
<line x1="462.0" y1="118.0" x2="462.0" y2="132.0" stroke="#00bfff" stroke-width="1.2"/>
<rect x="459.5" y="123.1" width="5" height="5" fill="#00bfff"/>
<line x1="467.0" y1="125.0" x2="467.0" y2="146.0" stroke="#00bfff" stroke-width="1.2"/>
<rect x="464.5" y="136.5" width="5" height="5" fill="#00bfff"/>
<line x1="466.0" y1="141.0" x2="466.0" y2="156.0" stroke="#00bfff" stroke-width="1.2"/>
<rect x="463.5" y="146.5" width="5" height="5" fill="#00bfff"/>
<line x1="466.4" y1="150.0" x2="466.4" y2="165.0" stroke="#00bfff" stroke-width="1.2"/>
<rect x="463.9" y="153.9" width="5" height="5" fill="#00bfff"/>
<line x1="478.4" y1="134.0" x2="478.4" y2="146.0" stroke="#00bfff" stroke-width="1.2"/>
<rect x="475.9" y="137.9" width="5" height="5" fill="#00bfff"/>
<line x1="482.4" y1="148.0" x2="482.4" y2="161.0" stroke="#00bfff" stroke-width="1.2"/>
<rect x="479.9" y="152.5" width="5" height="5" fill="#00bfff"/>
<line x1="486.0" y1="152.0" x2="486.0" y2="164.0" stroke="#00bfff" stroke-width="1.2"/>
<rect x="483.5" y="155.5" width="5" height="5" fill="#00bfff"/>
<line x1="497.0" y1="142.0" x2="497.0" y2="156.0" stroke="#00bfff" stroke-width="1.2"/>
<rect x="494.5" y="147.1" width="5" height="5" fill="#00bfff"/>
<line x1="501.6" y1="131.0" x2="501.6" y2="148.0" stroke="#00bfff" stroke-width="1.2"/>
<rect x="499.1" y="137.9" width="5" height="5" fill="#00bfff"/>
<line x1="491.6" y1="170.0" x2="491.6" y2="184.0" stroke="#00bfff" stroke-width="1.2"/>
<rect x="489.1" y="174.1" width="5" height="5" fill="#00bfff"/>
<line x1="505.0" y1="166.0" x2="505.0" y2="180.0" stroke="#00bfff" stroke-width="1.2"/>
<rect x="502.5" y="169.9" width="5" height="5" fill="#00bfff"/>
<line x1="432.4" y1="116.0" x2="432.4" y2="126.0" stroke="#00bfff" stroke-width="1.2"/>
<rect x="429.9" y="118.5" width="5" height="5" fill="#00bfff"/>
<line x1="511.3" y1="137.0" x2="511.3" y2="153.6" stroke="#00bfff" stroke-width="1.2"/>
<rect x="508.8" y="142.9" width="5" height="5" fill="#00bfff"/>
<line x1="514.9" y1="141.3" x2="514.9" y2="158.8" stroke="#00bfff" stroke-width="1.2"/>
<rect x="512.4" y="146.0" width="5" height="5" fill="#00bfff"/>
<line x1="525.4" y1="136.0" x2="525.4" y2="157.0" stroke="#00bfff" stroke-width="1.2"/>
<rect x="522.9" y="142.9" width="5" height="5" fill="#00bfff"/>
<line x1="543.3" y1="124.0" x2="543.3" y2="149.5" stroke="#00bfff" stroke-width="1.2"/>
<rect x="540.8" y="137.7" width="5" height="5" fill="#00bfff"/>
<line x1="547.9" y1="146.0" x2="547.9" y2="159.8" stroke="#00bfff" stroke-width="1.2"/>
<rect x="545.4" y="150.1" width="5" height="5" fill="#00bfff"/>
<line x1="554.0" y1="130.0" x2="554.0" y2="149.5" stroke="#00bfff" stroke-width="1.2"/>
<rect x="551.5" y="138.4" width="5" height="5" fill="#00bfff"/>
<line x1="555.3" y1="153.7" x2="555.3" y2="164.0" stroke="#00bfff" stroke-width="1.2"/>
<rect x="552.8" y="157.8" width="5" height="5" fill="#00bfff"/>
<line x1="563.0" y1="137.0" x2="563.0" y2="153.7" stroke="#00bfff" stroke-width="1.2"/>
<rect x="560.5" y="143.3" width="5" height="5" fill="#00bfff"/>
<line x1="564.4" y1="131.0" x2="564.4" y2="146.0" stroke="#00bfff" stroke-width="1.2"/>
<rect x="561.9" y="136.7" width="5" height="5" fill="#00bfff"/>
<line x1="569.1" y1="153.0" x2="569.1" y2="166.0" stroke="#00bfff" stroke-width="1.2"/>
<rect x="566.6" y="157.3" width="5" height="5" fill="#00bfff"/>
<line x1="571.8" y1="152.0" x2="571.8" y2="168.0" stroke="#00bfff" stroke-width="1.2"/>
<rect x="569.3" y="157.9" width="5" height="5" fill="#00bfff"/>
<line x1="573.3" y1="141.0" x2="573.3" y2="157.8" stroke="#00bfff" stroke-width="1.2"/>
<rect x="570.8" y="147.0" width="5" height="5" fill="#00bfff"/>
<line x1="575.3" y1="121.0" x2="575.3" y2="135.0" stroke="#00bfff" stroke-width="1.2"/>
<rect x="572.8" y="125.4" width="5" height="5" fill="#00bfff"/>
<line x1="581.5" y1="124.8" x2="581.5" y2="140.2" stroke="#00bfff" stroke-width="1.2"/>
<rect x="579.0" y="129.5" width="5" height="5" fill="#00bfff"/>
<line x1="584.6" y1="152.6" x2="584.6" y2="164.0" stroke="#00bfff" stroke-width="1.2"/>
<rect x="582.1" y="157.8" width="5" height="5" fill="#00bfff"/>
<line x1="592.9" y1="135.0" x2="592.9" y2="149.5" stroke="#00bfff" stroke-width="1.2"/>
<rect x="590.4" y="139.8" width="5" height="5" fill="#00bfff"/>
<line x1="598.0" y1="132.0" x2="598.0" y2="145.0" stroke="#00bfff" stroke-width="1.2"/>
<rect x="595.5" y="136.3" width="5" height="5" fill="#00bfff"/>
<line x1="600.7" y1="129.0" x2="600.7" y2="143.0" stroke="#00bfff" stroke-width="1.2"/>
<rect x="598.2" y="133.6" width="5" height="5" fill="#00bfff"/>
<line x1="603.2" y1="126.0" x2="603.2" y2="140.0" stroke="#00bfff" stroke-width="1.2"/>
<rect x="600.7" y="130.5" width="5" height="5" fill="#00bfff"/>
<line x1="605.2" y1="126.8" x2="605.2" y2="143.3" stroke="#00bfff" stroke-width="1.2"/>
<rect x="602.7" y="132.5" width="5" height="5" fill="#00bfff"/>
<line x1="604.2" y1="138.0" x2="604.2" y2="152.0" stroke="#00bfff" stroke-width="1.2"/>
<rect x="601.7" y="142.9" width="5" height="5" fill="#00bfff"/>
<line x1="606.9" y1="156.0" x2="606.9" y2="170.0" stroke="#00bfff" stroke-width="1.2"/>
<rect x="604.4" y="160.5" width="5" height="5" fill="#00bfff"/>
<line x1="466.4" y1="200.0" x2="466.4" y2="225.0" stroke="#00bfff" stroke-width="1.2"/>
<rect x="463.9" y="209.5" width="5" height="5" fill="#00bfff"/>
<line x1="506.2" y1="164.0" x2="506.2" y2="180.6" stroke="#00bfff" stroke-width="1.2"/>
<rect x="503.7" y="169.9" width="5" height="5" fill="#00bfff"/>
<line x1="511.8" y1="164.0" x2="511.8" y2="174.4" stroke="#00bfff" stroke-width="1.2"/>
<rect x="509.3" y="166.8" width="5" height="5" fill="#00bfff"/>
<line x1="532.0" y1="178.6" x2="532.0" y2="192.0" stroke="#00bfff" stroke-width="1.2"/>
<rect x="529.5" y="182.7" width="5" height="5" fill="#00bfff"/>
<line x1="537.1" y1="185.8" x2="537.1" y2="200.2" stroke="#00bfff" stroke-width="1.2"/>
<rect x="534.6" y="190.5" width="5" height="5" fill="#00bfff"/>
<line x1="552.0" y1="166.0" x2="552.0" y2="177.5" stroke="#00bfff" stroke-width="1.2"/>
<rect x="549.5" y="169.5" width="5" height="5" fill="#00bfff"/>
<line x1="557.8" y1="175.5" x2="557.8" y2="188.0" stroke="#00bfff" stroke-width="1.2"/>
<rect x="555.3" y="179.2" width="5" height="5" fill="#00bfff"/>
<line x1="565.0" y1="180.6" x2="565.0" y2="199.2" stroke="#00bfff" stroke-width="1.2"/>
<rect x="562.5" y="188.0" width="5" height="5" fill="#00bfff"/>
<line x1="570.2" y1="189.0" x2="570.2" y2="207.5" stroke="#00bfff" stroke-width="1.2"/>
<rect x="567.7" y="195.7" width="5" height="5" fill="#00bfff"/>
<line x1="573.9" y1="193.0" x2="573.9" y2="215.7" stroke="#00bfff" stroke-width="1.2"/>
<rect x="571.4" y="201.9" width="5" height="5" fill="#00bfff"/>
<line x1="593.3" y1="166.0" x2="593.3" y2="186.8" stroke="#00bfff" stroke-width="1.2"/>
<rect x="590.8" y="173.6" width="5" height="5" fill="#00bfff"/>
<line x1="606.9" y1="160.0" x2="606.9" y2="173.4" stroke="#00bfff" stroke-width="1.2"/>
<rect x="604.4" y="162.0" width="5" height="5" fill="#00bfff"/>
<line x1="591.4" y1="192.0" x2="591.4" y2="219.8" stroke="#00bfff" stroke-width="1.2"/>
<rect x="588.9" y="203.3" width="5" height="5" fill="#00bfff"/>
<line x1="606.3" y1="190.0" x2="606.3" y2="207.5" stroke="#00bfff" stroke-width="1.2"/>
<rect x="603.8" y="196.3" width="5" height="5" fill="#00bfff"/>
<line x1="602.8" y1="199.0" x2="602.8" y2="224.0" stroke="#00bfff" stroke-width="1.2"/>
<rect x="600.3" y="209.1" width="5" height="5" fill="#00bfff"/>
<line x1="565.0" y1="216.0" x2="565.0" y2="228.6" stroke="#00bfff" stroke-width="1.2"/>
<rect x="562.5" y="219.7" width="5" height="5" fill="#00bfff"/>
<line x1="583.0" y1="219.0" x2="583.0" y2="236.0" stroke="#00bfff" stroke-width="1.2"/>
<rect x="580.5" y="224.5" width="5" height="5" fill="#00bfff"/>
<line x1="379.8" y1="121.5" x2="629.4" y2="121.5" stroke="#000" stroke-width="1.35" stroke-dasharray="4.6 2.0"/>
<line x1="379.8" y1="143.30" x2="629.4" y2="143.30" stroke="#000" stroke-width="1.25" stroke-dasharray="1.1 1.45"/>
<path d="M400.60 112.8H442.18M400.60 109.3V116.3M442.18 109.3V116.3M421 106V120M417.5 106H424.5M417.5 120H424.5" stroke="#000" stroke-width="1.4" fill="none"/>
<path d="M415.4 112.8L421 107.2L426.6 112.8L421 118.39999999999999Z" fill="#000"/>
<path d="M442.18 115H483.76M442.18 111.5V118.5M483.76 111.5V118.5M463.6 108V122M460.1 108H467.1M460.1 122H467.1" stroke="#000" stroke-width="1.4" fill="none"/>
<path d="M458.0 115L463.6 109.4L469.20000000000005 115L463.6 120.6Z" fill="#000"/>
<path d="M483.76 122.7H525.34M483.76 119.2V126.2M525.34 119.2V126.2M504.5 115.5V130M501.0 115.5H508.0M501.0 130H508.0" stroke="#000" stroke-width="1.4" fill="none"/>
<path d="M498.9 122.7L504.5 117.10000000000001L510.1 122.7L504.5 128.3Z" fill="#000"/>
<path d="M525.34 129.6H566.92M525.34 126.1V133.1M566.92 126.1V133.1M546.6 120.6V138.5M543.1 120.6H550.1M543.1 138.5H550.1" stroke="#000" stroke-width="1.4" fill="none"/>
<path d="M541.0 129.6L546.6 124.0L552.2 129.6L546.6 135.2Z" fill="#000"/>
<path d="M566.92 128.5H608.50M566.92 125.0V132.0M608.50 125.0V132.0M588.3 121.7V136.1M584.8 121.7H591.8M584.8 136.1H591.8" stroke="#000" stroke-width="1.4" fill="none"/>
<path d="M582.6999999999999 128.5L588.3 122.9L593.9 128.5L588.3 134.1Z" fill="#000"/>
</g>
<rect x="384.4" y="248.2" width="100.4" height="32.9" fill="#fff" fill-opacity="0.8" stroke="#222" stroke-width="1.1"/>
<rect x="387.6" y="254.7" width="4.8" height="4.8" fill="#00bfff"/>
<rect x="387.6" y="269.0" width="4.8" height="4.8" fill="#ff0000"/>
<g font-size="10.2" fill="#000" stroke="#000" stroke-width="0.05"><text x="-3.96" y="0" transform="translate(400.97,261.20) scale(0.940,1)">O</text><text x="-2.83" y="0" transform="translate(407.84,261.20) scale(1.025,1)">u</text><text x="-1.46" y="0" transform="translate(412.86,261.20) scale(1.271,1)">t</text><text x="-2.51" y="0" transform="translate(417.30,261.20) scale(0.912,1)">s</text><text x="-1.13" y="0" transform="translate(421.15,261.20) scale(0.972,1)">i</text><text x="-2.72" y="0" transform="translate(425.40,261.20) scale(1.034,1)">d</text><text x="-2.83" y="0" transform="translate(431.64,261.20) scale(1.027,1)">e</text><text x="-1.70" y="0" transform="translate(436.37,261.20) scale(1.025,1)">-</text><text x="438.13" y="261.20">I</text><text x="-3.33" y="0" transform="translate(443.96,261.20) scale(0.815,1)">F</text><text x="-3.68" y="0" transform="translate(450.11,261.20) scale(0.935,1)">U</text><text x="-3.55" y="0" transform="translate(459.97,261.20) scale(0.841,1)">P</text><text x="-3.05" y="0" transform="translate(465.41,261.20) scale(0.855,1)">a</text><text x="-1.13" y="0" transform="translate(469.88,261.20) scale(0.972,1)">i</text><text x="-1.95" y="0" transform="translate(473.66,261.20) scale(1.218,1)">r</text><text x="-2.51" y="0" transform="translate(477.77,261.20) scale(0.912,1)">s</text></g>
<g font-size="10.2" fill="#000" stroke="#000" stroke-width="0.05"><text x="397.26" y="275.20">I</text><text x="-2.84" y="0" transform="translate(403.21,275.20) scale(1.025,1)">n</text><text x="-2.51" y="0" transform="translate(408.81,275.20) scale(0.912,1)">s</text><text x="-1.13" y="0" transform="translate(412.66,275.20) scale(0.972,1)">i</text><text x="-2.72" y="0" transform="translate(416.91,275.20) scale(1.034,1)">d</text><text x="-2.83" y="0" transform="translate(423.16,275.20) scale(1.027,1)">e</text><text x="-1.70" y="0" transform="translate(427.88,275.20) scale(1.025,1)">-</text><text x="429.65" y="275.20">I</text><text x="-3.33" y="0" transform="translate(435.48,275.20) scale(0.815,1)">F</text><text x="-3.68" y="0" transform="translate(441.62,275.20) scale(0.935,1)">U</text><text x="-3.55" y="0" transform="translate(451.49,275.20) scale(0.841,1)">P</text><text x="-3.05" y="0" transform="translate(456.93,275.20) scale(0.855,1)">a</text><text x="-1.13" y="0" transform="translate(461.40,275.20) scale(0.972,1)">i</text><text x="-1.95" y="0" transform="translate(465.18,275.20) scale(1.218,1)">r</text><text x="-2.51" y="0" transform="translate(469.28,275.20) scale(0.912,1)">s</text></g>
<path d="M400.60 286.10L400.60 280.80 M400.60 0.70L400.60 6.00 M442.18 286.10L442.18 280.80 M442.18 0.70L442.18 6.00 M483.76 286.10L483.76 280.80 M483.76 0.70L483.76 6.00 M525.34 286.10L525.34 280.80 M525.34 0.70L525.34 6.00 M566.92 286.10L566.92 280.80 M566.92 0.70L566.92 6.00 M608.50 286.10L608.50 280.80 M608.50 0.70L608.50 6.00 M383.97 286.10L383.97 283.00 M383.97 0.70L383.97 3.80 M392.28 286.10L392.28 283.00 M392.28 0.70L392.28 3.80 M408.92 286.10L408.92 283.00 M408.92 0.70L408.92 3.80 M417.23 286.10L417.23 283.00 M417.23 0.70L417.23 3.80 M425.55 286.10L425.55 283.00 M425.55 0.70L425.55 3.80 M433.86 286.10L433.86 283.00 M433.86 0.70L433.86 3.80 M450.50 286.10L450.50 283.00 M450.50 0.70L450.50 3.80 M458.81 286.10L458.81 283.00 M458.81 0.70L458.81 3.80 M467.13 286.10L467.13 283.00 M467.13 0.70L467.13 3.80 M475.44 286.10L475.44 283.00 M475.44 0.70L475.44 3.80 M492.08 286.10L492.08 283.00 M492.08 0.70L492.08 3.80 M500.39 286.10L500.39 283.00 M500.39 0.70L500.39 3.80 M508.71 286.10L508.71 283.00 M508.71 0.70L508.71 3.80 M517.02 286.10L517.02 283.00 M517.02 0.70L517.02 3.80 M533.66 286.10L533.66 283.00 M533.66 0.70L533.66 3.80 M541.97 286.10L541.97 283.00 M541.97 0.70L541.97 3.80 M550.29 286.10L550.29 283.00 M550.29 0.70L550.29 3.80 M558.60 286.10L558.60 283.00 M558.60 0.70L558.60 3.80 M575.24 286.10L575.24 283.00 M575.24 0.70L575.24 3.80 M583.55 286.10L583.55 283.00 M583.55 0.70L583.55 3.80 M591.87 286.10L591.87 283.00 M591.87 0.70L591.87 3.80 M600.18 286.10L600.18 283.00 M600.18 0.70L600.18 3.80 M616.82 286.10L616.82 283.00 M616.82 0.70L616.82 3.80 M625.13 286.10L625.13 283.00 M625.13 0.70L625.13 3.80 M379.80 241.80L385.10 241.80 M629.40 241.80L624.10 241.80 M379.80 192.55L385.10 192.55 M629.40 192.55L624.10 192.55 M379.80 143.30L385.10 143.30 M629.40 143.30L624.10 143.30 M379.80 94.05L385.10 94.05 M629.40 94.05L624.10 94.05 M379.80 44.80L385.10 44.80 M629.40 44.80L624.10 44.80 M379.80 281.20L382.90 281.20 M629.40 281.20L626.30 281.20 M379.80 271.35L382.90 271.35 M629.40 271.35L626.30 271.35 M379.80 261.50L382.90 261.50 M629.40 261.50L626.30 261.50 M379.80 251.65L382.90 251.65 M629.40 251.65L626.30 251.65 M379.80 231.95L382.90 231.95 M629.40 231.95L626.30 231.95 M379.80 222.10L382.90 222.10 M629.40 222.10L626.30 222.10 M379.80 212.25L382.90 212.25 M629.40 212.25L626.30 212.25 M379.80 202.40L382.90 202.40 M629.40 202.40L626.30 202.40 M379.80 182.70L382.90 182.70 M629.40 182.70L626.30 182.70 M379.80 172.85L382.90 172.85 M629.40 172.85L626.30 172.85 M379.80 163.00L382.90 163.00 M629.40 163.00L626.30 163.00 M379.80 153.15L382.90 153.15 M629.40 153.15L626.30 153.15 M379.80 133.45L382.90 133.45 M629.40 133.45L626.30 133.45 M379.80 123.60L382.90 123.60 M629.40 123.60L626.30 123.60 M379.80 113.75L382.90 113.75 M629.40 113.75L626.30 113.75 M379.80 103.90L382.90 103.90 M629.40 103.90L626.30 103.90 M379.80 84.20L382.90 84.20 M629.40 84.20L626.30 84.20 M379.80 74.35L382.90 74.35 M629.40 74.35L626.30 74.35 M379.80 64.50L382.90 64.50 M629.40 64.50L626.30 64.50 M379.80 54.65L382.90 54.65 M629.40 54.65L626.30 54.65 M379.80 34.95L382.90 34.95 M629.40 34.95L626.30 34.95 M379.80 25.10L382.90 25.10 M629.40 25.10L626.30 25.10 M379.80 15.25L382.90 15.25 M629.40 15.25L626.30 15.25 M379.80 5.40L382.90 5.40 M629.40 5.40L626.30 5.40" stroke="#000" stroke-width="1.2" fill="none"/>
<path d="M379.8 0.7H629.4M379.8 286.1H629.4M379.8 0.7V286.1" fill="none" stroke="#000" stroke-width="1.3" stroke-linecap="square"/>
<path d="M629.4 0.04999999999999993V286.75" fill="none" stroke="#000" stroke-width="1.6"/>
<g font-size="14.2" fill="#000" stroke="#000" stroke-width="0.22"><text x="-3.95" y="0" transform="translate(400.60,298.90) scale(0.972,1)">0</text></g>
<g font-size="14.2" fill="#000" stroke="#000" stroke-width="0.22"><text x="-4.14" y="0" transform="translate(438.13,298.90) scale(0.929,1)">1</text><text x="-3.95" y="0" transform="translate(446.34,298.90) scale(0.972,1)">0</text></g>
<g font-size="14.2" fill="#000" stroke="#000" stroke-width="0.22"><text x="-3.95" y="0" transform="translate(479.42,298.90) scale(0.937,1)">2</text><text x="-3.95" y="0" transform="translate(487.92,298.90) scale(0.972,1)">0</text></g>
<g font-size="14.2" fill="#000" stroke="#000" stroke-width="0.22"><text x="-3.91" y="0" transform="translate(521.15,298.90) scale(0.934,1)">3</text><text x="-3.95" y="0" transform="translate(529.50,298.90) scale(0.972,1)">0</text></g>
<g font-size="14.2" fill="#000" stroke="#000" stroke-width="0.22"><text x="-3.90" y="0" transform="translate(562.70,298.90) scale(0.973,1)">4</text><text x="-3.95" y="0" transform="translate(571.08,298.90) scale(0.972,1)">0</text></g>
<g font-size="14.2" fill="#000" stroke="#000" stroke-width="0.22"><text x="-3.93" y="0" transform="translate(604.27,298.90) scale(0.918,1)">5</text><text x="-3.95" y="0" transform="translate(612.66,298.90) scale(0.972,1)">0</text></g>
<g font-size="14.2" fill="#000" stroke="#000" stroke-width="0.22"><text x="-4.15" y="0" transform="translate(351.08,247.00) scale(1.189,1)">−</text><text x="-4.14" y="0" transform="translate(360.85,247.00) scale(0.929,1)">1</text><text x="365.00" y="247.00">.</text><text x="-3.95" y="0" transform="translate(373.23,247.00) scale(0.972,1)">0</text></g>
<g font-size="14.2" fill="#000" stroke="#000" stroke-width="0.22"><text x="-4.15" y="0" transform="translate(351.08,197.75) scale(1.189,1)">−</text><text x="-3.95" y="0" transform="translate(360.73,197.75) scale(0.972,1)">0</text><text x="365.00" y="197.75">.</text><text x="-3.93" y="0" transform="translate(373.17,197.75) scale(0.918,1)">5</text></g>
<g font-size="14.2" fill="#000" stroke="#000" stroke-width="0.22"><text x="-3.95" y="0" transform="translate(360.73,148.50) scale(0.972,1)">0</text><text x="365.00" y="148.50">.</text><text x="-3.95" y="0" transform="translate(373.23,148.50) scale(0.972,1)">0</text></g>
<g font-size="14.2" fill="#000" stroke="#000" stroke-width="0.22"><text x="-3.95" y="0" transform="translate(360.73,99.25) scale(0.972,1)">0</text><text x="365.00" y="99.25">.</text><text x="-3.93" y="0" transform="translate(373.17,99.25) scale(0.918,1)">5</text></g>
<g font-size="14.2" fill="#000" stroke="#000" stroke-width="0.22"><text x="-4.14" y="0" transform="translate(360.85,50.00) scale(0.929,1)">1</text><text x="365.00" y="50.00">.</text><text x="-3.95" y="0" transform="translate(373.23,50.00) scale(0.972,1)">0</text></g>
<g font-size="19.3" fill="#000" stroke="#000" stroke-width="0.22"><text x="-6.43" y="0" transform="translate(430.72,317.50) scale(0.887,1)">S</text><text x="-5.35" y="0" transform="translate(442.65,317.50) scale(1.075,1)">e</text><text x="-5.58" y="0" transform="translate(454.97,317.50) scale(1.082,1)">p</text><text x="-5.78" y="0" transform="translate(466.31,317.50) scale(0.895,1)">a</text><text x="-3.69" y="0" transform="translate(477.30,317.50) scale(1.275,1)">r</text><text x="-5.78" y="0" transform="translate(485.97,317.50) scale(0.895,1)">a</text><text x="-2.76" y="0" transform="translate(495.94,317.50) scale(1.330,1)">t</text><text x="500.21" y="317.50">i</text><text x="-5.37" y="0" transform="translate(510.89,317.50) scale(1.058,1)">o</text><text x="-5.38" y="0" transform="translate(522.90,317.50) scale(1.073,1)">n</text><text x="-3.29" y="0" transform="translate(538.66,317.50) scale(1.036,1)">[</text><text x="-5.49" y="0" transform="translate(548.92,317.50) scale(1.112,1)">k</text><text x="-5.58" y="0" transform="translate(560.08,317.50) scale(1.082,1)">p</text><text x="566.06" y="317.50">c</text><text x="-2.07" y="0" transform="translate(580.23,317.50) scale(1.036,1)">]</text></g>
<g font-size="19.6" fill="#000" stroke="#000" stroke-width="0.22"><text x="-7.43" y="0" transform="translate(161.13,318.10) scale(0.932,1)">R</text><text x="-2.72" y="0" transform="translate(170.32,318.10) scale(1.182,1)">/</text><text x="-7.43" y="0" transform="translate(180.83,318.10) scale(0.932,1)">R</text></g>
<g font-size="14.8" fill="#000" stroke="#000" stroke-width="0.22"><text x="-4.10" y="0" transform="translate(192.05,321.60) scale(0.971,1)">e</text><text x="-2.17" y="0" transform="translate(198.75,321.60) scale(1.180,1)">f</text><text x="-2.17" y="0" transform="translate(203.44,321.60) scale(1.180,1)">f</text></g>
<g font-size="19.7" fill="#000" stroke="#000" stroke-width="0.22" transform="translate(14.3,144.0) rotate(-90)"><text x="-6.57" y="0" transform="translate(-68.12,0.00) scale(1.054,1)">Δ</text><text x="-61.21" y="0.00">l</text><text x="-56.09" y="0.00">o</text><text x="-5.26" y="0" transform="translate(-39.18,0.00) scale(1.043,1)">g</text><text x="-3.83" y="0" transform="translate(-29.10,0.00) scale(0.811,1)">(</text><text x="-4.84" y="0" transform="translate(-20.49,0.00) scale(0.920,1)">s</text><text x="-6.57" y="0" transform="translate(-9.52,0.00) scale(0.855,1)">S</text><text x="-6.43" y="0" transform="translate(2.19,0.00) scale(0.822,1)">F</text><text x="-7.46" y="0" transform="translate(14.47,0.00) scale(0.918,1)">R</text><text x="-2.74" y="0" transform="translate(23.19,0.00) scale(1.399,1)">,</text><text x="-5.26" y="0" transform="translate(38.06,0.00) scale(1.043,1)">d</text><text x="-5.46" y="0" transform="translate(50.23,0.00) scale(1.036,1)">e</text><text x="-4.93" y="0" transform="translate(61.58,0.00) scale(1.064,1)">x</text><text x="-2.73" y="0" transform="translate(70.84,0.00) scale(0.811,1)">)</text></g>
<g font-size="19.7" fill="#000" stroke="#000" stroke-width="0.22" transform="translate(338.85,144.0) rotate(-90)"><text x="-6.57" y="0" transform="translate(-68.12,0.00) scale(1.054,1)">Δ</text><text x="-61.21" y="0.00">l</text><text x="-56.09" y="0.00">o</text><text x="-5.26" y="0" transform="translate(-39.18,0.00) scale(1.043,1)">g</text><text x="-3.83" y="0" transform="translate(-29.10,0.00) scale(0.811,1)">(</text><text x="-4.84" y="0" transform="translate(-20.49,0.00) scale(0.920,1)">s</text><text x="-6.57" y="0" transform="translate(-9.52,0.00) scale(0.855,1)">S</text><text x="-6.43" y="0" transform="translate(2.19,0.00) scale(0.822,1)">F</text><text x="-7.46" y="0" transform="translate(14.47,0.00) scale(0.918,1)">R</text><text x="-2.74" y="0" transform="translate(23.19,0.00) scale(1.399,1)">,</text><text x="-5.26" y="0" transform="translate(38.06,0.00) scale(1.043,1)">d</text><text x="-5.46" y="0" transform="translate(50.23,0.00) scale(1.036,1)">e</text><text x="-4.93" y="0" transform="translate(61.58,0.00) scale(1.064,1)">x</text><text x="-2.73" y="0" transform="translate(70.84,0.00) scale(0.811,1)">)</text></g>
</g></svg>
</body></html>
